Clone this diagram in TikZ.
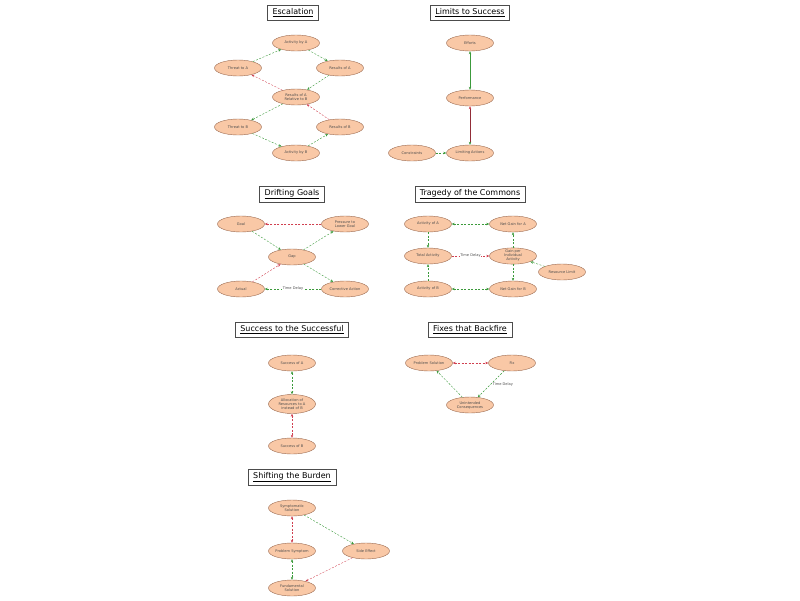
\documentclass[tikz,border=0pt]{standalone}
\usepackage{fontspec}
\setmainfont{DejaVu Sans}
\usetikzlibrary{shapes.geometric,arrows.meta}
\definecolor{peach}{HTML}{F9C8A6}
\definecolor{edge}{HTML}{9A6A50}
\definecolor{gr}{HTML}{3C9A3C}
\definecolor{rd}{HTML}{D04050}
\begin{document}
\begin{tikzpicture}[x=1pt,y=-1pt,
 n/.style={ellipse,draw=edge,fill=peach,minimum width=47pt,minimum height=16pt,inner sep=0pt,font=\fontsize{3.6}{4}\selectfont,align=center,text=black!70},
 t/.style={draw=black!70,fill=white,font=\fontsize{8}{9}\selectfont,inner xsep=5pt,minimum height=15pt},
 g/.style={draw=gr,dashed,dash pattern=on 2pt off 1.5pt,-{Stealth[length=3pt,width=2.5pt]}},
 r/.style={draw=rd,dashed,dash pattern=on 2pt off 1.5pt,-{Stealth[length=3pt,width=2.5pt]}},
 lab/.style={fill=white,inner sep=0.5pt,font=\fontsize{3.6}{4}\selectfont,text=black!70}]
\useasboundingbox (0,0) rectangle (800,600);
% Escalation
\node[t] (t1) at (293,13) {\underline{Escalation}};
\node[n] (aA) at (296,43) {Activity by A};
\node[n] (tA) at (238,68) {Threat to A};
\node[n] (rA) at (340,68) {Results of A};
\node[n] (rr) at (296,97) {Results of A\\Relative to B};
\node[n] (tB) at (238,127) {Threat to B};
\node[n] (rB) at (340,127) {Results of B};
\node[n] (aB) at (296,153) {Activity by B};
\draw[g] (tA) -- (aA); \draw[g] (aA) -- (rA); \draw[g] (rA) -- (rr);
\draw[r] (rr) -- (tA); \draw[g] (rr) -- (tB); \draw[g] (tB) -- (aB);
\draw[g] (aB) -- (rB); \draw[r] (rB) -- (rr);
% Limits
\node[t] (t2) at (470,13) {\underline{Limits to Success}};
\node[n] (ef) at (470,43) {Efforts};
\node[n] (pf) at (470,98) {Performance};
\node[n] (la) at (470,153) {Limiting Actions};
\node[n] (cs) at (412,153) {Constraints};
\draw[gr,{Stealth[length=3pt,width=2.5pt]}-{Stealth[length=3pt,width=2.5pt]}] (ef) -- (pf);
\draw[rd!70!black,{Stealth[length=3pt,width=2.5pt,color=rd]}-{Stealth[length=3pt,width=2.5pt,color=gr]}] (pf) -- (la);
\draw[g] (cs) -- (la);
% Drifting Goals
\node[t] (t3) at (292,194) {\underline{Drifting Goals}};
\node[n] (go) at (241,224) {Goal};
\node[n] (pr) at (345,224) {Pressure to\\Lower Goal};
\node[n] (gp) at (292,257) {Gap};
\node[n] (ac) at (241,289) {Actual};
\node[n] (ca) at (345,289) {Corrective Action};
\draw[r] (pr) -- (go); \draw[g] (go) -- (gp); \draw[g] (gp) -- (pr);
\draw[r] (ac) -- (gp); \draw[g] (gp) -- (ca);
\draw[g] (ca) -- node[lab]{Time Delay} (ac);
% Tragedy
\node[t] (t4) at (470,194) {\underline{Tragedy of the Commons}};
\node[n] (tAa) at (428,224) {Activity of A};
\node[n] (ngA) at (513,224) {Net Gain for A};
\node[n] (ta) at (428,256) {Total Activity};
\node[n] (gi) at (513,256) {Gain per\\Individual\\Activity};
\node[n] (rl) at (562,272) {Resource Limit};
\node[n] (tAb) at (428,289) {Activity of B};
\node[n] (ngB) at (513,289) {Net Gain for B};
\draw[g,{Stealth[length=3pt,width=2.5pt]}-{Stealth[length=3pt,width=2.5pt]}] (tAa) -- (ngA);
\draw[g,{Stealth[length=3pt,width=2.5pt]}-{Stealth[length=3pt,width=2.5pt]}] (tAb) -- (ngB);
\draw[g] (tAa) -- (ta); \draw[g] (tAb) -- (ta);
\draw[r] (ta) -- node[lab]{Time Delay} (gi);
\draw[g] (gi) -- (ngA); \draw[g] (gi) -- (ngB); \draw[g] (rl) -- (gi);
% Success
\node[t] (t5) at (292,330) {\underline{Success to the Successful}};
\node[n] (sA) at (292,363) {Success of A};
\node[n,minimum height=19pt] (al) at (292,404) {Allocation of\\Resources to A\\instead of B};
\node[n] (sB) at (292,446) {Success of B};
\draw[g,{Stealth[length=3pt,width=2.5pt]}-{Stealth[length=3pt,width=2.5pt]}] (sA) -- (al);
\draw[r,{Stealth[length=3pt,width=2.5pt]}-{Stealth[length=3pt,width=2.5pt]}] (al) -- (sB);
% Fixes
\node[t] (t6) at (470,330) {\underline{Fixes that Backfire}};
\node[n] (ps) at (429,363) {Problem Solution};
\node[n] (fx) at (512,363) {Fix};
\node[n] (uc) at (470,405) {Unintended\\Consequences};
\draw[r,{Stealth[length=3pt,width=2.5pt]}-{Stealth[length=3pt,width=2.5pt]}] (ps) -- (fx);
\draw[g] (fx) -- node[lab,right=1pt]{Time Delay} (uc);
\draw[g] (uc) -- (ps);
% Shifting
\node[t] (t7) at (292,477) {\underline{Shifting the Burden}};
\node[n] (sy) at (292,508) {Symptomatic\\Solution};
\node[n] (pS) at (292,551) {Problem Symptom};
\node[n] (se) at (366,551) {Side Effect};
\node[n] (fs) at (292,588) {Fundamental\\Solution};
\draw[r,{Stealth[length=3pt,width=2.5pt]}-{Stealth[length=3pt,width=2.5pt]}] (sy) -- (pS);
\draw[g] (sy) -- (se); \draw[r] (se) -- (fs);
\draw[g,{Stealth[length=3pt,width=2.5pt]}-{Stealth[length=3pt,width=2.5pt]}] (pS) -- (fs);
\end{tikzpicture}
\end{document}
